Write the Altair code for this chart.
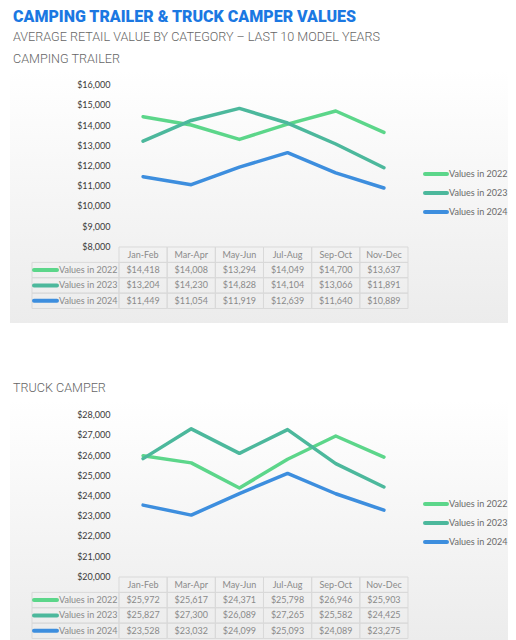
import altair as alt
import pandas as pd

cats = ["Jan-Feb", "Mar-Apr", "May-Jun", "Jul-Aug", "Sep-Oct", "Nov-Dec"]
series = ["Values in 2022", "Values in 2023", "Values in 2024"]
colors = ["#5cd68a", "#4cb89c", "#3d8ede"]

ct_2022 = [14418, 14008, 13294, 14049, 14700, 13637]
ct_2023 = [13204, 14230, 14828, 14104, 13066, 11891]
ct_2024 = [11449, 11054, 11919, 12639, 11640, 10889]
ct_ticks = [8000, 9000, 10000, 11000, 12000, 13000, 14000, 15000, 16000]

tc_2022 = [25972, 25617, 24371, 25798, 26946, 25903]
tc_2023 = [25827, 27300, 26089, 27265, 25582, 24425]
tc_2024 = [23528, 23032, 24099, 25093, 24089, 23275]
tc_ticks = [20000, 21000, 22000, 23000, 24000, 25000, 26000, 27000, 28000]

W = 498
FONT = "Lato"
TXT = "#8a8a8a"

colscale = alt.Scale(domain=series, range=colors)
xscale = alt.Scale(type="band", domain=cats, range=[109, 398], paddingInner=0, paddingOuter=0)
rows = ["hdr"] + series
rowscale = alt.Scale(type="band", domain=rows, range=[177, 238.5], paddingInner=0, paddingOuter=0)
legscale = alt.Scale(type="band", domain=series, range=[94.5, 151.5], paddingInner=0, paddingOuter=0)


def panel(title, vals, ydomain, yticks, h, toff):
    recs = []
    for s, arr in zip(series, vals):
        for c, v in zip(cats, arr):
            recs.append({"cat": c, "series": s, "value": v})
    df = pd.DataFrame(recs)
    hdr = pd.DataFrame({"cat": cats, "row": ["hdr"] * len(cats)})
    grid = pd.DataFrame([{"cat": c, "row": r} for r in rows for c in cats])
    lab = pd.DataFrame({"series": series})

    bg = alt.Chart(alt.Data(values=[{"a": 1}])).mark_rect(
        color=alt.Gradient(
            gradient="linear",
            stops=[alt.GradientStop(color="#ffffff", offset=0),
                   alt.GradientStop(color="#ececec", offset=1)],
            x1=0, x2=0, y1=0, y2=1,
        )
    ).encode(x=alt.value(0), x2=alt.value(W), y=alt.value(0), y2=alt.value(h))

    lines = alt.Chart(df).mark_line(strokeWidth=3.5, strokeCap="round", strokeJoin="round").encode(
        x=alt.X("cat:N", scale=xscale, axis=None, sort=cats),
        y=alt.Y("value:Q",
                scale=alt.Scale(domain=ydomain, range=[176.4, 14.7], nice=False, zero=False),
                axis=alt.Axis(values=yticks, format="$,.0f", orient="left", offset=-100,
                              ticks=False, tickSize=0, domain=False, grid=False, labelPadding=0,
                              labelFont=FONT, labelFontSize=9, labelColor="#3a3a3a", title=None,
                              zindex=2)),
        color=alt.Color("series:N", scale=colscale, legend=None),
        detail="series:N",
    )

    cells = alt.Chart(grid).mark_rect(fill="transparent", stroke="#d9d9d9", strokeWidth=1).encode(
        x=alt.X("cat:N", scale=xscale, axis=None),
        y=alt.Y("row:N", scale=rowscale, axis=None),
    )
    labcells = alt.Chart(lab).mark_rect(fill="transparent", stroke="#d9d9d9", strokeWidth=1).encode(
        x=alt.value(22), x2=alt.value(109),
        y=alt.Y("series:N", scale=rowscale, axis=None),
    )
    hdrtext = alt.Chart(hdr).mark_text(font=FONT, fontSize=9, color=TXT).encode(
        x=alt.X("cat:N", scale=xscale, axis=None),
        y=alt.Y("row:N", scale=rowscale, axis=None),
        text="cat:N",
    )
    valtext = alt.Chart(df).mark_text(font=FONT, fontSize=9, color=TXT).encode(
        x=alt.X("cat:N", scale=xscale, axis=None),
        y=alt.Y("series:N", scale=rowscale, axis=None),
        text=alt.Text("value:Q", format="$,.0f"),
    )
    labtext = alt.Chart(lab).mark_text(font=FONT, fontSize=9, color=TXT, align="left").encode(
        x=alt.value(49),
        y=alt.Y("series:N", scale=rowscale, axis=None),
        text="series:N",
    )
    labsw = alt.Chart(lab).mark_rule(strokeWidth=4, strokeCap="round").encode(
        x=alt.value(24), x2=alt.value(47),
        y=alt.Y("series:N", scale=rowscale, axis=None),
        color=alt.Color("series:N", scale=colscale, legend=None),
    )
    legsw = alt.Chart(lab).mark_rule(strokeWidth=4, strokeCap="round").encode(
        x=alt.value(415), x2=alt.value(437),
        y=alt.Y("series:N", scale=legscale, axis=None),
        color=alt.Color("series:N", scale=colscale, legend=None),
    )
    legtext = alt.Chart(lab).mark_text(font=FONT, fontSize=9, color="#6a6a6a", align="left").encode(
        x=alt.value(439),
        y=alt.Y("series:N", scale=legscale, axis=None),
        text="series:N",
    )

    return alt.layer(
        bg, lines, cells, labcells, hdrtext, valtext, labtext, labsw, legsw, legtext
    ).resolve_scale(y="independent").properties(
        width=W, height=h,
        title=alt.TitleParams(title, anchor="start", font="Roboto", fontSize=12.6, fontWeight=300,
                              color="#666666", dx=3, offset=toff),
    )


p1 = panel("CAMPING TRAILER", [ct_2022, ct_2023, ct_2024], [8000, 16000], ct_ticks, 253, 4)
p2 = panel("TRUCK CAMPER", [tc_2022, tc_2023, tc_2024], [20000, 28000], tc_ticks, 240, 5)

chart = alt.vconcat(p1, p2, spacing=59).properties(
    padding={"left": 2, "top": 0, "right": 0, "bottom": 0},
    title=alt.TitleParams(
        "CAMPING TRAILER & TRUCK CAMPER VALUES",
        subtitle="AVERAGE RETAIL VALUE BY CATEGORY – LAST 10 MODEL YEARS",
        anchor="start", font="Roboto", fontSize=16, fontWeight=900, color="#1b78e2",
        subtitleFont="Roboto", subtitleFontSize=12.6, subtitleFontWeight=300, subtitleColor="#666666",
        subtitlePadding=6, dx=3, offset=10,
    ),
).configure_view(strokeWidth=0)

chart.save("out.html", embed_options={"renderer": "svg", "actions": False})
